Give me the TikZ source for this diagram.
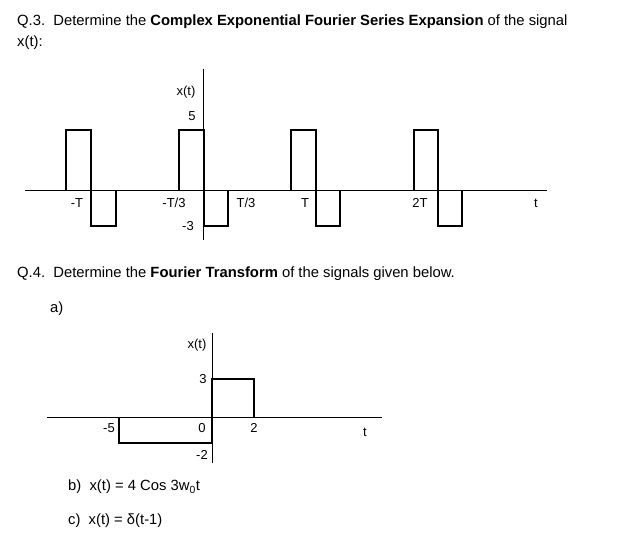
\documentclass[tikz,border=0pt]{standalone}
\usepackage{fontspec}
\setmainfont{Liberation Sans}
\begin{document}
\begin{tikzpicture}[x=1pt,y=-1pt,
  lbl/.style={inner sep=0pt,font=\fontsize{13}{15}\selectfont},
  txt/.style={inner sep=0pt,anchor=west,font=\fontsize{14.8}{17}\selectfont},
  axis/.style={line width=0.6pt},
  sig/.style={line width=2.2pt,line join=miter}]
\useasboundingbox[fill=white] (0,0) rectangle (627,543);
\node[txt] (q3) at (17,22) {Q.3.\ \ Determine the \textbf{Complex Exponential Fourier Series Expansion} of the signal};
\node[txt] (q3b) at (17,43) {x(t):};
% top graph
\coordinate (h1) at (25,190); \coordinate (h2) at (547,190);
\coordinate (v1) at (203,69); \coordinate (v2) at (203,240);
\draw[axis] (h1) -- (h2);
\draw[axis] (v1) -- (v2);
\foreach \a/\b/\c in {66/91/116,179/204/228,291/316/340,414/438/462}{
  \draw[sig] (\a,190) -- (\a,130) -- (\b,130) -- (\b,226) -- (\c,226) -- (\c,190);
}
\node[lbl] (xt1) at (186,92) {x(t)};
\node[lbl] (f5) at (192,116) {5};
\node[lbl] (lT) at (77,203) {-T};
\node[lbl] (lT3) at (174,203) {-T/3};
\node[lbl] (T3) at (246,203) {T/3};
\node[lbl] (T) at (305,203) {T};
\node[lbl] (T2) at (420,203) {2T};
\node[lbl] (t1) at (536,203) {t};
\node[lbl] (m3) at (188,226) {-3};
% Q4
\node[txt] (q4) at (17,274) {Q.4.\ \ Determine the \textbf{Fourier Transform} of the signals given below.};
\node[txt] (a) at (50,309) {a)};
% bottom graph
\coordinate (g1) at (47,417); \coordinate (g2) at (382,417);
\coordinate (w1) at (212,333); \coordinate (w2) at (212,463);
\draw[axis] (g1) -- (g2);
\draw[axis] (w1) -- (w2);
\draw[sig] (119,417) -- (119,443) -- (212,443) -- (212,379) -- (254,379) -- (254,417);
\node[lbl] (xt2) at (197,345) {x(t)};
\node[lbl] (b3) at (203,379) {3};
\node[lbl] (m5) at (109,428) {-5};
\node[lbl] (z0) at (202,428) {0};
\node[lbl] (b2) at (254,428) {2};
\node[lbl] (t2) at (365,432) {t};
\node[lbl] (m2) at (202,455) {-2};
\node[txt] (b) at (68,487) {b)\ \ x(t) = 4 Cos 3w\textsubscript{0}t};
\node[txt] (c) at (68,521) {c)\ \ x(t) = δ(t-1)};
\end{tikzpicture}
\end{document}
